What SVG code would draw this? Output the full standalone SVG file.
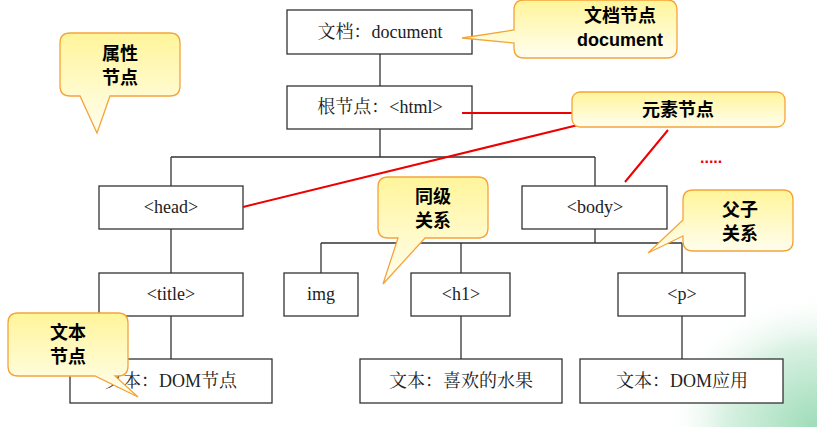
<svg xmlns="http://www.w3.org/2000/svg" width="817" height="427" viewBox="0 0 817 427">
<defs>
<linearGradient id="cg" x1="0" y1="0" x2="0" y2="1"><stop offset="0" stop-color="#fff59a"/><stop offset="1" stop-color="#fffef0"/></linearGradient>
<radialGradient id="bg" cx="1" cy="1" r="0.6"><stop offset="0" stop-color="#9edcb8"/><stop offset="0.6" stop-color="#d8f1e2"/><stop offset="1" stop-color="#ffffff" stop-opacity="0"/></radialGradient>
<style>
.n{fill:#fff;stroke:#333;stroke-width:1.3}
.t{font-family:"Liberation Serif","Noto Serif CJK SC","Noto Sans CJK SC",serif;font-size:18px;fill:#222;text-anchor:middle}
.c{fill:url(#cg);stroke:#f5a43a;stroke-width:1.3}
.ct{font-family:"Liberation Sans","Noto Sans CJK SC",sans-serif;font-size:18px;font-weight:bold;fill:#000;text-anchor:middle}
.l{stroke:#333;stroke-width:1.3;fill:none}
.r{stroke:#e00;stroke-width:2;fill:none}
</style>
</defs>
<rect x="0" y="0" width="817" height="427" fill="#fff"/>
<rect x="560" y="200" width="257" height="227" fill="url(#bg)"/>
<g id="connectors">
<path class="l" d="M380 54V86M380 129V157M171 157H595M171 157V186M595 157V186M595 229V243M321 243H682M321 243V273M461 243V273M682 243V273M171 229V273M171 316V359M461 316V359M682 316V359"/>
</g>
<g id="document"><rect class="n" x="287" y="10" width="185" height="44"/><text class="t" x="380" y="38">文档：document</text></g>
<g id="html"><rect class="n" x="287" y="86" width="185" height="43"/><text class="t" x="380" y="113">根节点：&lt;html&gt;</text></g>
<g id="head"><rect class="n" x="99" y="186" width="144" height="43"/><text class="t" x="171" y="213">&lt;head&gt;</text></g>
<g id="body"><rect class="n" x="522" y="186" width="145" height="43"/><text class="t" x="595" y="213">&lt;body&gt;</text></g>
<g id="title"><rect class="n" x="99" y="273" width="144" height="43"/><text class="t" x="171" y="300">&lt;title&gt;</text></g>
<g id="img"><rect class="n" x="284" y="273" width="74" height="43"/><text class="t" x="321" y="300">img</text></g>
<g id="h1"><rect class="n" x="411" y="273" width="99" height="43"/><text class="t" x="461" y="300">&lt;h1&gt;</text></g>
<g id="p"><rect class="n" x="618" y="273" width="127" height="43"/><text class="t" x="682" y="300">&lt;p&gt;</text></g>
<g id="text1"><rect class="n" x="70" y="359" width="202" height="44"/><text class="t" x="171" y="387">文本：DOM节点</text></g>
<g id="text2"><rect class="n" x="360" y="359" width="202" height="44"/><text class="t" x="461" y="387">文本：喜欢的水果</text></g>
<g id="text3"><rect class="n" x="580" y="359" width="203" height="44"/><text class="t" x="682" y="387">文本：DOM应用</text></g>
<g id="red-lines">
<path class="r" d="M462 113H575M243 207L578 125M625 182L668 130"/>
<text x="700" y="163" font-family="Liberation Sans,sans-serif" font-size="16" font-weight="bold" fill="#e00">.....</text>
</g>
<g id="callout-document"><path class="c" d="M524 0H667Q677 0 677 10V48Q677 58 667 58H524Q514 58 514 48V43L462 38L514 30V10Q514 0 524 0Z"/><text class="ct" x="620" y="22">文档节点</text><text class="ct" x="620" y="46">document</text></g>
<g id="callout-attr"><path class="c" d="M70 33H170Q180 33 180 43V86Q180 96 170 96H110L97 133L80 96H70Q60 96 60 86V43Q60 33 70 33Z"/><text class="ct" x="120" y="60">属性</text><text class="ct" x="120" y="84">节点</text></g>
<g id="callout-element"><rect class="c" x="572" y="92" width="213" height="35" rx="8"/><text class="ct" x="678" y="116">元素节点</text></g>
<g id="callout-sibling"><path class="c" d="M388 177H478Q488 177 488 187V228Q488 238 478 238H425L383 284L398 238H388Q378 238 378 228V187Q378 177 388 177Z"/><text class="ct" x="433" y="203">同级</text><text class="ct" x="433" y="227">关系</text></g>
<g id="callout-parent"><path class="c" d="M693 190H783Q793 190 793 200V241Q793 251 783 251H693Q683 251 683 241V236L648 253L683 220V200Q683 190 693 190Z"/><text class="ct" x="740" y="216">父子</text><text class="ct" x="740" y="240">关系</text></g>
<g id="callout-text"><path class="c" d="M18 313H118Q128 313 128 323V366Q128 376 118 376H115L138 397L95 376H18Q8 376 8 366V323Q8 313 18 313Z"/><text class="ct" x="68" y="339">文本</text><text class="ct" x="68" y="363">节点</text></g>
</svg>
